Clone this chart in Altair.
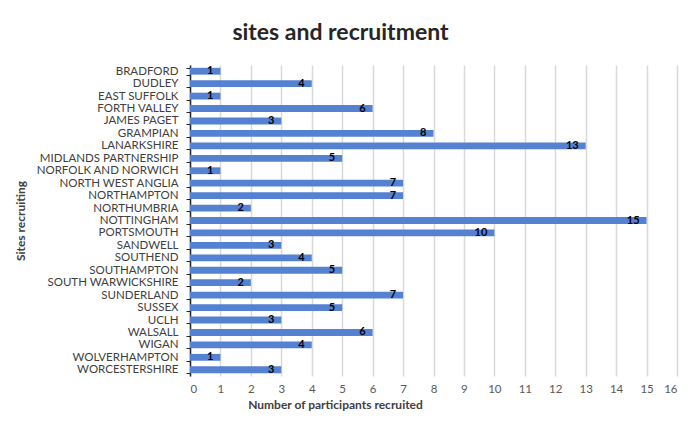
import altair as alt
import pandas as pd

sites = ["BRADFORD", "DUDLEY", "EAST SUFFOLK", "FORTH VALLEY", "JAMES PAGET", "GRAMPIAN",
         "LANARKSHIRE", "MIDLANDS PARTNERSHIP", "NORFOLK AND NORWICH", "NORTH WEST ANGLIA",
         "NORTHAMPTON", "NORTHUMBRIA", "NOTTINGHAM", "PORTSMOUTH", "SANDWELL", "SOUTHEND",
         "SOUTHAMPTON", "SOUTH WARWICKSHIRE", "SUNDERLAND", "SUSSEX", "UCLH", "WALSALL",
         "WIGAN", "WOLVERHAMPTON", "WORCESTERSHIRE"]
recruited = [1, 4, 1, 6, 3, 8, 13, 5, 1, 7, 7, 2, 15, 10, 3, 4, 5, 2, 7, 5, 3, 6, 4, 1, 3]
x_ticks = list(range(0, 17))

df = pd.DataFrame({"site": sites, "n": recruited})

FONT = "Lato"

y_enc = alt.Y(
    "site:N", sort=sites, title="Sites recruiting",
    scale=alt.Scale(paddingInner=0.45, paddingOuter=0.225),
    axis=alt.Axis(
        labelFont=FONT, labelFontSize=11.5, labelColor="#404040", labelPadding=8,
        tickBand="extent", tickSize=4, tickColor="#262626", domainColor="#262626",
        domainWidth=1.5, titleFont=FONT, titleFontSize=12, titleFontWeight="bold",
        titleColor="#404040", titlePadding=8, grid=False,
    ),
)
x_enc = alt.X(
    "n:Q", title="Number of participants recruited",
    scale=alt.Scale(domain=[0, 16], nice=False),
    axis=alt.Axis(
        values=x_ticks, format="d", labelFont=FONT, labelFontSize=11.5, labelColor="#595959",
        ticks=False, domain=False, labelPadding=7, grid=True, gridColor="#d9d9d9",
        gridWidth=1.5, titleFont=FONT, titleFontSize=12, titleFontWeight="bold",
        titleColor="#404040", titleX=145, titlePadding=5, labelOverlap=False,
    ),
)

base = alt.Chart(df).encode(x=x_enc, y=y_enc)
bars = base.mark_bar(color="#5581d2")
labels = base.mark_text(align="right", dx=-7, fontWeight="bold", fontSize=11,
                        font=FONT, color="#000000").encode(text="n:Q")

chart = (bars + labels).properties(
    width=487, height=311,
    title=alt.TitleParams("sites and recruitment", font=FONT, fontSize=23,
                          fontWeight="bold", color="#262626", anchor="middle",
                          dx=-93, offset=14),
    padding={"left": 6, "top": 14, "right": 5, "bottom": 5},
).configure_view(stroke=None)

chart.save("out.html", embed_options={"renderer": "svg", "actions": False})
